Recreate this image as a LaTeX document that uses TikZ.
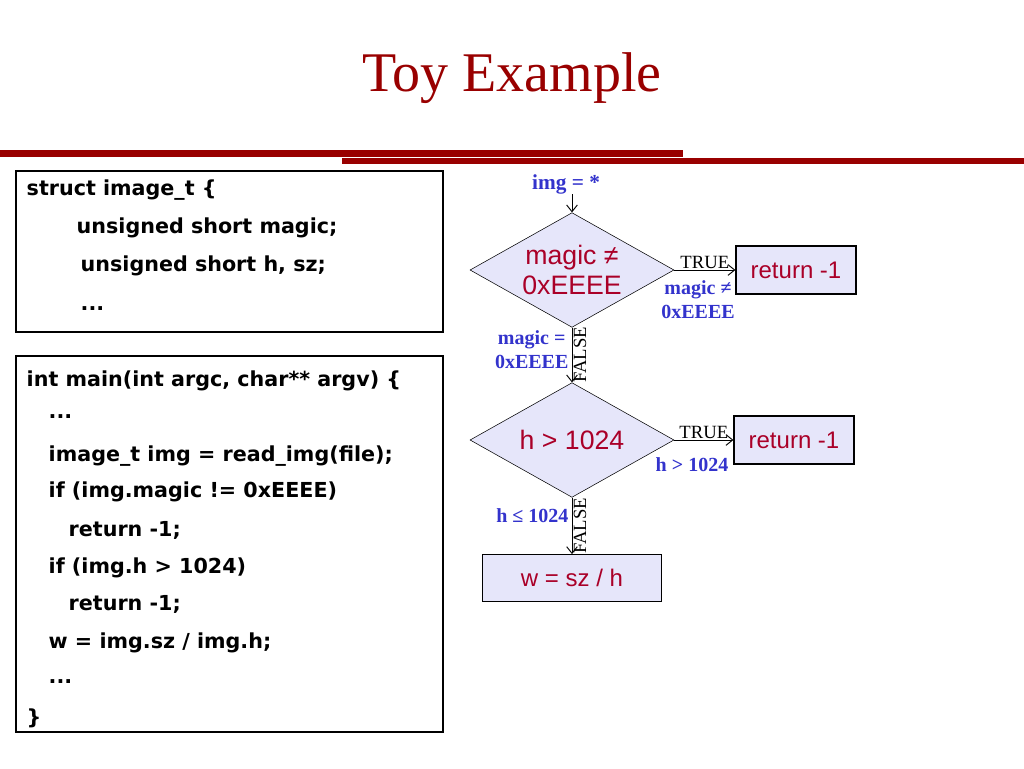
\documentclass[tikz,border=0pt]{standalone}
\usepackage{fontspec}
\setmainfont{Liberation Serif}
\setsansfont{Liberation Sans}
\newfontfamily\codefont{DejaVu Sans}
\usetikzlibrary{shapes.geometric,positioning}
\definecolor{titlered}{RGB}{153,0,0}
\definecolor{boxfill}{RGB}{230,230,250}
\definecolor{textred}{RGB}{170,0,40}
\definecolor{labelblue}{RGB}{51,51,204}
\tikzset{
  codebox/.style={draw, line width=2.2pt, inner sep=0pt},
  codeline/.style={right, font=\codefont\bfseries\fontsize{15.5}{17}\selectfont},
  decision/.style={diamond, draw, fill=boxfill, minimum width=153pt, minimum height=86pt, aspect=1.8, inner sep=0pt, align=center, text=textred, font=\sffamily\fontsize{20}{22}\selectfont},
  action/.style={rectangle, draw, line width=0.9pt, fill=boxfill, text=textred, font=\sffamily\fontsize{18}{20}\selectfont},
  branch/.style={font=\fontsize{14}{15}\selectfont, inner sep=1pt},
  cond/.style={text=labelblue, font=\bfseries\fontsize{15}{18}\selectfont, align=center, inner sep=1pt},
  flow/.style={-{Straight Barb[length=5pt,width=8pt]}, line width=0.7pt}
}
\usetikzlibrary{arrows.meta}
\begin{document}
\begin{tikzpicture}[x=0.75pt, y=-0.75pt]
  \useasboundingbox (0,0) rectangle (1024,768);
  \node[text=titlered, font=\fontsize{42}{46}\selectfont] (title) at (512,78) {Toy Example};
  \fill[titlered] (0,150) rectangle (683,157);
  \fill[titlered] (342,158) rectangle (1024,164);
  % code boxes
  \draw[codebox] (16,171) rectangle (443,332);
  \node[codeline] at (22,190) {struct image\_t \{};
  \node[codeline] at (72,228) {unsigned short magic;};
  \node[codeline] at (76,266) {unsigned short h, sz;};
  \node[codeline] at (76,309) {...};
  \draw[codebox] (16,356) rectangle (443,732);
  \node[codeline] at (22,381) {int main(int argc, char** argv) \{};
  \node[codeline] at (44,417) {...};
  \node[codeline] at (44,456) {image\_t img = read\_img(file);};
  \node[codeline] at (44,492) {if (img.magic != 0xEEEE)};
  \node[codeline] at (64,530) {return -1;};
  \node[codeline] at (44,568) {if (img.h > 1024)};
  \node[codeline] at (64,604) {return -1;};
  \node[codeline] at (44,643) {w = img.sz / img.h;};
  \node[codeline] at (44,682) {...};
  \node[codeline] at (22,718) {\}};
  % flow chart
  \node[cond, font=\bfseries\fontsize{16}{18}\selectfont] (start) at (566,184) {img = *};
  \coordinate (in) at (572,194);
  \node[decision] (magic) at (572,270) {magic ≠\\0xEEEE};
  \node[decision] (height) at (572,440) {h > 1024};
  \node[action, minimum width=90pt, minimum height=36pt] (ret1) at (796,270) {return -1};
  \node[action, minimum width=90pt, minimum height=36pt] (ret2) at (794,440) {return -1};
  \node[action, minimum width=134pt, minimum height=35pt] (assign) at (572,578) {w = sz / h};
  \draw[flow] (in) -- (magic.north);
  \draw[flow] (magic.east) -- node[branch, above] {TRUE} (ret1.west);
  \draw[flow] (magic.south) -- node[branch, rotate=90, anchor=north] {FALSE} (height.north);
  \draw[flow] (height.east) -- node[branch, above] {TRUE} (ret2.west);
  \draw[flow] (height.south) -- node[branch, rotate=90, anchor=north] {FALSE} (assign.north);
  \node[cond] (ne) at (698,300) {magic ≠\\0xEEEE};
  \node[cond, anchor=east] (eq) at (570,350) {magic =\\0xEEEE};
  \node[cond] (gt) at (692,465) {h > 1024};
  \node[cond, anchor=east] (le) at (570,516) {h ≤ 1024};
\end{tikzpicture}
\end{document}
